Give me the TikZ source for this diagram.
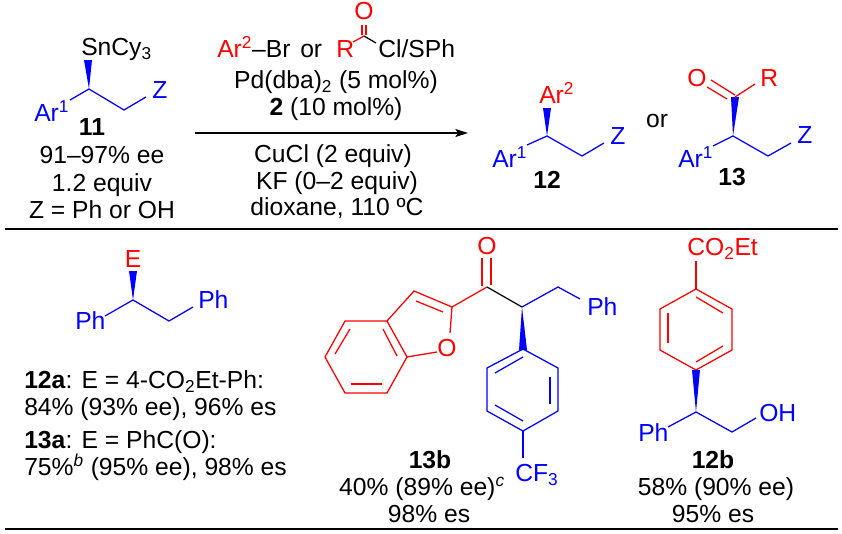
\documentclass[tikz,border=0pt]{standalone}
\usepackage{xcolor}
\usepackage{fontspec}
\setmainfont{Liberation Sans}
\usepackage{tikz}
\usetikzlibrary{calc,arrows.meta}
\tikzset{
  lbl/.style={inner sep=0pt,anchor=base,font=\fontsize{18.5}{20}\selectfont},
  lblw/.style={lbl,anchor=base west},
  bond/.style={line width=0.95pt,line join=miter},
  bondb/.style={bond,blue},
  bondr/.style={bond,red},
  rule/.style={line width=1.1pt}
}
\begin{document}
\begin{tikzpicture}[x=0.75pt,y=-0.75pt]
\useasboundingbox (0,0) rectangle (842,533);
% rules and arrow
\coordinate (ruleAa) at (5,229);
\coordinate (ruleAb) at (838,229);
\coordinate (ruleBa) at (5,529);
\coordinate (ruleBb) at (838,529);
\coordinate (arrowa) at (195,133);
\coordinate (arrowb) at (468,133);
\draw[rule] (ruleAa) -- (ruleAb);
\draw[rule] (ruleBa) -- (ruleBb);
\draw[line width=0.95pt,-{Stealth[length=9.5pt,width=6pt,inset=2pt]}] (arrowa) -- (arrowb);
% stannane 11
\coordinate (sa) at (89,89);
\coordinate (sb) at (70,100);
\coordinate (sc) at (124,110);
\coordinate (sd) at (146,97);
\fill[blue] (sa) -- (84,60) -- (92,60) -- cycle;
\draw[bondb] (sb) -- (sa) -- (sc) -- (sd);
\node[lblw] (sncy) at (81,55) {SnCy\textsubscript{3}};
\node[lblw,blue] (arA) at (34,121) {Ar\textsuperscript{1}};
\node[lblw,blue] (zA) at (152,98) {Z};
\node[lbl] (n11) at (92,135) {\textbf{11}};
\node[lbl] (eeA) at (102,163) {91–97\% ee};
\node[lbl] (eqA) at (102,191) {1.2 equiv};
\node[lbl] (zdef) at (102,218) {Z = Ph or OH};
% conditions
\coordinate (ca) at (364,36);
\coordinate (cb) at (353,42);
\coordinate (cc) at (376,43);
\draw[bondr] (cb) -- (ca);
\draw[bond] (ca) -- (cc);
\draw[bondr] (362,35) -- (362,25);
\draw[bondr] (366,35) -- (366,25);
\node[lbl,red] (oC) at (364,19) {O};
\node[lblw] (arB) at (217,57) {{\color{red}Ar\textsuperscript{2}}–Br};
\node[lblw] (orA) at (300,57) {or};
\node[lblw,red] (rA) at (336,57) {R};
\node[lblw] (clsph) at (378,57) {Cl/SPh};
\node[lbl] (pd) at (336,88) {Pd(dba)\textsubscript{2} (5 mol\%)};
\node[lbl] (cat) at (336,115) {\textbf{2} (10 mol\%)};
\node[lbl] (cucl) at (333,162) {CuCl (2 equiv)};
\node[lbl] (kf) at (337,189) {KF (0–2 equiv)};
\node[lbl] (diox) at (337,215) {dioxane, 110 ºC};
% product 12
\coordinate (pa) at (547,136);
\coordinate (pb) at (527,145);
\coordinate (pc) at (582,156);
\coordinate (pd) at (604,143);
\fill[blue] (pa) -- (543,108) -- (551,108) -- cycle;
\draw[bondb] (pb) -- (pa) -- (pc) -- (pd);
\node[lblw,red] (arC) at (539,103) {Ar\textsuperscript{2}};
\node[lblw,blue] (arD) at (492,167) {Ar\textsuperscript{1}};
\node[lblw,blue] (zB) at (610,144) {Z};
\node[lbl] (n12) at (547,188) {\textbf{12}};
\node[lbl] (orB) at (657,127) {or};
% product 13
\coordinate (qa) at (733,136);
\coordinate (qb) at (713,146);
\coordinate (qc) at (768,156);
\coordinate (qd) at (791,143);
\coordinate (qe) at (735,97);
\coordinate (qf) at (755,84);
\fill[blue] (qa) -- ($(qe)+(-4,0)$) -- ($(qe)+(4,0)$) -- cycle;
\draw[bondb] (qb) -- (qa) -- (qc) -- (qd);
\draw[bondr] (qe) -- (qf);
\draw[bondr] (735,95) -- (711,80);
\draw[bondr] (727,99) -- (707,87);
\node[lbl,red] (oD) at (697,86) {O};
\node[lblw,red] (rB) at (760,86) {R};
\node[lblw,blue] (arE) at (678,167) {Ar\textsuperscript{1}};
\node[lblw,blue] (zC) at (797,143) {Z};
\node[lbl] (n13) at (732,185) {\textbf{13}};
% general product
\coordinate (ga) at (133,300);
\coordinate (gb) at (105,316);
\coordinate (gc) at (169,321);
\coordinate (gd) at (193,307);
\fill[blue] (ga) -- (129,271) -- (137,271) -- cycle;
\draw[bondb] (gb) -- (ga) -- (gc) -- (gd);
\node[lbl,red] (eA) at (133,267) {E};
\node[lblw,blue] (phA) at (75,329) {Ph};
\node[lblw,blue] (phB) at (198,308) {Ph};
\node[lblw] (la) at (24,388) {\textbf{12a}: E = 4-CO\textsubscript{2}Et-Ph:};
\node[lblw] (lb) at (24,415) {84\% (93\% ee), 96\% es};
\node[lblw] (lc) at (24,448) {\textbf{13a}: E = PhC(O):};
\node[lblw] (ld) at (24,475) {75\%\textsuperscript{\textit{b}} (95\% ee), 98\% es};
% 13b, benzofuran
\coordinate (fa) at (487,287);
\coordinate (fb) at (452,307);
\coordinate (fc) at (414,291);
\coordinate (fd) at (387,321);
\coordinate (fe) at (407,357);
\coordinate (ff) at (345,321);
\coordinate (fg) at (325,357);
\coordinate (fh) at (345,393);
\coordinate (fi) at (387,393);
\coordinate (fj) at (450,333);
\coordinate (fk) at (437,352);
\draw[bondr] (fa) -- (fb) -- (fc) -- (fd) -- (ff) -- (fg) -- (fh) -- (fi) -- (fe) -- (fd);
\draw[bondr] (fb) -- (fj);
\draw[bondr] (fe) -- (fk);
\draw[bondr] (416,301) -- (443,312);
\draw[bondr] (350,329) -- (335,354);
\draw[bondr] (351,384) -- (382,384);
\draw[bondr] (383,329) -- (397,356);
\draw[bondr] (482,286) -- (482,258);
\draw[bondr] (491,285) -- (491,258);
\node[lbl,red] (oE) at (487,254) {O};
\node[lbl,red] (oF) at (447,356) {O};
% 13b, side chain and aryl
\coordinate (ha) at (522,307);
\coordinate (hb) at (558,287);
\coordinate (hc) at (580,299);
\coordinate (ra) at (523,349);
\coordinate (rb) at (558,368);
\coordinate (rc) at (558,411);
\coordinate (rd) at (523,431);
\coordinate (re) at (487,411);
\coordinate (rf) at (487,368);
\coordinate (rg) at (523,458);
\draw[bond] (fa) -- (ha);
\draw[bondb] (ha) -- (hb) -- (hc);
\fill[blue] (ha) -- ($(ra)+(-4,1)$) -- ($(ra)+(4,1)$) -- cycle;
\draw[bondb] (ra) -- (rb) -- (rc) -- (rd) -- (re) -- (rf) -- cycle;
\draw[bondb] (495,373) -- (523,357);
\draw[bondb] (550,377) -- (550,404);
\draw[bondb] (495,405) -- (523,421);
\draw[bondb] (rd) -- (rg);
\node[lblw,blue] (phC) at (587,315) {Ph};
\node[lblw,blue] (cf) at (515,481) {CF\textsubscript{3}};
\node[lbl] (n13b) at (430,468) {\textbf{13b}};
\node[lbl] (ma) at (422,495) {40\% (89\% ee)\textsuperscript{\textit{c}}};
\node[lbl] (mb) at (429,522) {98\% es};
% 12b
\coordinate (ka) at (696,289);
\coordinate (kb) at (732,309);
\coordinate (kc) at (732,350);
\coordinate (kd) at (696,370);
\coordinate (ke) at (660,350);
\coordinate (kf) at (660,309);
\coordinate (kg) at (696,261);
\coordinate (ta) at (696,412);
\coordinate (tb) at (668,427);
\coordinate (tc) at (732,432);
\coordinate (td) at (756,418);
\draw[bondr] (ka) -- (kb) -- (kc) -- (kd) -- (ke) -- (kf) -- cycle;
\draw[bondr] (ka) -- (kg);
\draw[bondr] (696,297) -- (723,313);
\draw[bondr] (668,313) -- (668,343);
\draw[bondr] (696,362) -- (723,346);
\fill[blue] (ta) -- ($(kd)+(-4,0)$) -- ($(kd)+(4,0)$) -- cycle;
\draw[bondb] (tb) -- (ta) -- (tc) -- (td);
\node[lblw,red] (coet) at (687,255) {CO\textsubscript{2}Et};
\node[lblw,blue] (phD) at (638,441) {Ph};
\node[lblw,blue] (oh) at (759,421) {OH};
\node[lbl] (n12b) at (713,468) {\textbf{12b}};
\node[lbl] (na) at (716,495) {58\% (90\% ee)};
\node[lbl] (nb) at (713,522) {95\% es};
\end{tikzpicture}
\end{document}
